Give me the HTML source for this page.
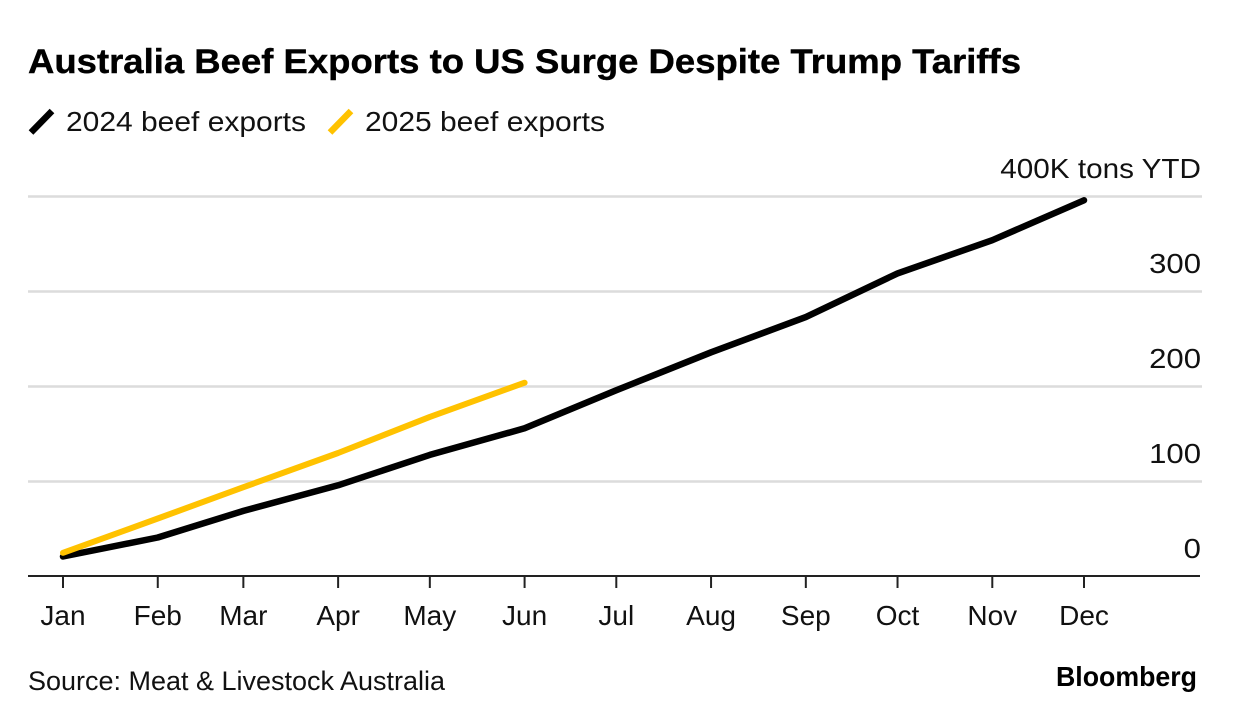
<!DOCTYPE html>
<html lang="en">
<head>
<meta charset="utf-8">
<title>Australia Beef Exports to US Surge Despite Trump Tariffs</title>
<style>
  html, body { margin: 0; padding: 0; background: #fff; }
  svg { display: block; font-family: "Liberation Sans", Arial, sans-serif; fill: #111; }
</style>
</head>
<body>
<svg id="chart" width="1236" height="722" viewBox="0 0 1236 722" xmlns="http://www.w3.org/2000/svg">
  <rect width="1236" height="722" fill="#ffffff"/>
  <text x="28" y="73" font-size="34.5" font-weight="700" fill="#000" stroke="#000" stroke-width="0.4" textLength="993" lengthAdjust="spacingAndGlyphs">Australia Beef Exports to US Surge Despite Trump Tariffs</text>
  <g>
    <g>
      <line x1="31" y1="132.5" x2="52" y2="111" stroke="#000" stroke-width="6.5" stroke-linecap="butt"/>
      <text x="66" y="131" font-size="28" textLength="240" lengthAdjust="spacingAndGlyphs">2024 beef exports</text>
    </g>
    <g>
      <line x1="330" y1="132.5" x2="351" y2="111" stroke="#ffc200" stroke-width="6.5" stroke-linecap="butt"/>
      <text x="365" y="131" font-size="28" textLength="240" lengthAdjust="spacingAndGlyphs">2025 beef exports</text>
    </g>
  </g>
  <g id="grid"></g>
  <g id="yLabels"></g>
  <g id="xAxis"></g>
  <g id="series"></g>
  <text x="28" y="690" font-size="27" textLength="417" lengthAdjust="spacingAndGlyphs">Source: Meat &amp; Livestock Australia</text>
  <text x="1056" y="686" font-size="28" font-weight="700" fill="#000" textLength="141" lengthAdjust="spacingAndGlyphs">Bloomberg</text>
</svg>
<script>
const months = ["Jan","Feb","Mar","Apr","May","Jun","Jul","Aug","Sep","Oct","Nov","Dec"];
const exports2024 = [21, 41, 69, 96, 128, 156, 196, 236, 273, 319, 354, 396];
const exports2025 = [25, 61, 94, 130, 168, 204];
const yTicks = [0, 100, 200, 300, 400];
const yTickLabels = ["0", "100", "200", "300", "400K tons YTD"];

const NS = "http://www.w3.org/2000/svg";
const DAY = 86400000;

function dayOfYear(i) {
  return (Date.UTC(2025, i, 1) - Date.UTC(2025, 0, 1)) / DAY;
}
function xScale(i) {
  return 63 + dayOfYear(i) * (1084 - 63) / dayOfYear(11);
}
function yScale(v) {
  return 576.5 - v * (576.5 - 196.5) / 400;
}
function make(tag, attrs, parent) {
  const el = document.createElementNS(NS, tag);
  for (const k in attrs) el.setAttribute(k, attrs[k]);
  parent.appendChild(el);
  return el;
}

const grid = document.getElementById("grid");
const yLabels = document.getElementById("yLabels");
const xAxis = document.getElementById("xAxis");
const series = document.getElementById("series");

yTicks.forEach(function (t, i) {
  if (t !== 0) {
    const g = make("line", { x1: 28, x2: 1202, y1: yScale(t), y2: yScale(t), stroke: "#dcdcdc", "stroke-width": 2.4 }, grid);
    
    
  }
  const label = make("text", { x: 1201, y: yScale(t) - 18.5, "font-size": 28, "text-anchor": "end" }, yLabels);
  
  
  label.textContent = yTickLabels[i];
  const stretch = i === yTicks.length - 1 ? 1.06 : 1.11;
  label.setAttribute("textLength", (label.getComputedTextLength() * stretch).toFixed(1));
  label.setAttribute("lengthAdjust", "spacingAndGlyphs");
});

const baseline = make("line", { x1: 28, x2: 1200, y1: 576, y2: 576, stroke: "#222", "stroke-width": 2 }, xAxis);



months.forEach(function (m, i) {
  const x = xScale(i);
  const tick = make("line", { x1: x, x2: x, y1: 576, y2: 588, stroke: "#222", "stroke-width": 2 }, xAxis);
  
  
  const label = make("text", { x: x, y: 625, "font-size": 28, "text-anchor": "middle" }, xAxis);
  
  
  label.textContent = m;
});

function linePoints(values) {
  return values.map(function (v, i) { return xScale(i).toFixed(1) + "," + yScale(v).toFixed(1); }).join(" ");
}

const line2024 = make("polyline", { points: linePoints(exports2024), fill: "none", stroke: "#000", "stroke-width": 6.5, "stroke-linecap": "round", "stroke-linejoin": "round" }, series);



const line2025 = make("polyline", { points: linePoints(exports2025), fill: "none", stroke: "#ffc200", "stroke-width": 6, "stroke-linecap": "round", "stroke-linejoin": "round" }, series);


</script>
</body>
</html>
